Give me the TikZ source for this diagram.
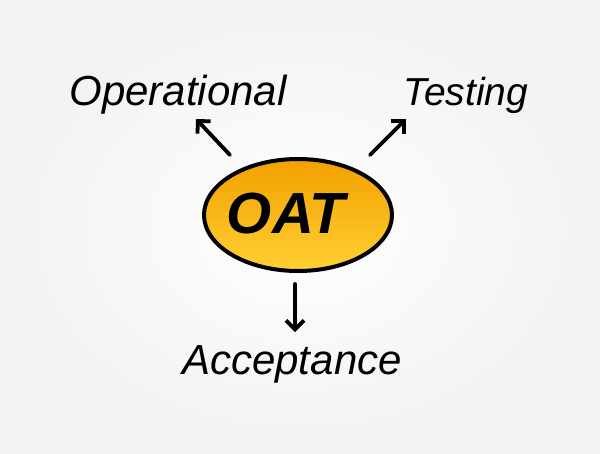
\documentclass[tikz,border=0pt]{standalone}
\usepackage{fontspec}
\setmainfont{Liberation Sans}
\usetikzlibrary{arrows.meta,shapes.geometric}
\definecolor{bgout}{RGB}{242,242,244}
\definecolor{ovtop}{RGB}{243,160,0}
\definecolor{ovbot}{RGB}{255,208,50}
\tikzset{
  lbl/.style={font=\itshape\fontsize{42}{48}\selectfont, text=black, inner sep=0pt},
  conn/.style={line width=3.8pt, line cap=round, -{Straight Barb[length=9pt,width=18pt,line width=3.8pt]}}
}
\begin{document}
\begin{tikzpicture}[x=1pt,y=1pt]
\useasboundingbox (0,0) rectangle (600,-453);
\shade[inner color=white, outer color=bgout] (0,0) rectangle (600,-453);
\node[ellipse, draw=black, line width=4pt, minimum width=188pt, minimum height=112pt,
      top color=ovtop, bottom color=ovbot, inner sep=0pt] (oat) at (298,-215) {};
\node[font=\bfseries\itshape\fontsize{58}{64}\selectfont, inner sep=0pt] (oattxt) at (286,-214) {OAT};
\node[lbl] (op) at (178,-95) {Operational};
\node[lbl,font=\itshape\fontsize{39}{46}\selectfont] (te) at (466,-95) {Testing};
\node[lbl] (ac) at (292,-364) {Acceptance};
\coordinate (s1) at (230,-155); \coordinate (e1) at (196,-119);
\coordinate (s2) at (370,-155); \coordinate (e2) at (406,-119);
\coordinate (s3) at (295,-284); \coordinate (e3) at (295,-332);
\draw[conn] (s1) -- (e1);
\draw[conn] (s2) -- (e2);
\draw[conn] (s3) -- (e3);
\end{tikzpicture}
\end{document}
